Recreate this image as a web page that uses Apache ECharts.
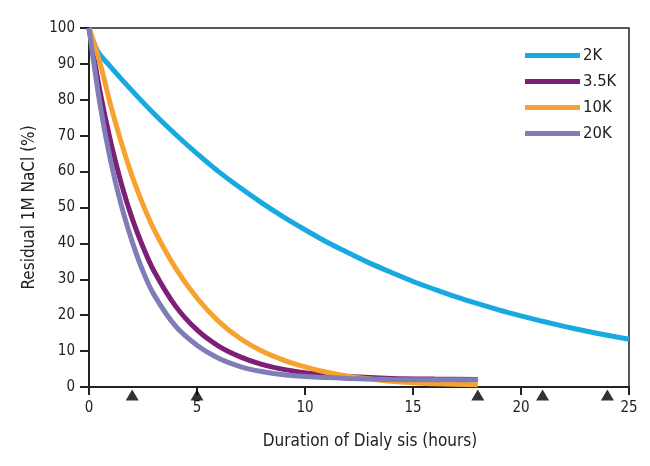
<!DOCTYPE html>
<html>
<head>
<meta charset="utf-8">
<script src="https://cdn.jsdelivr.net/npm/echarts@6/dist/echarts.min.js"></script>
<style>
  html, body { margin: 0; padding: 0; background: #fff; }
  #chart { width: 650px; height: 466px; }
</style>
</head>
<body>
<div id="chart"></div>
<script>
var FONT = '"Liberation Sans Narrow", "DejaVu Sans Condensed", "Roboto", sans-serif';

var hours2K = [0, 0.4, 1, 2, 3, 4, 5, 6, 7, 8, 9, 10, 11, 12, 13, 14, 15, 16, 17, 18, 19, 20, 21, 22, 23, 24, 25];
var values2K = [100, 93.5, 89.2, 82.5, 76.2, 70.4, 65, 60, 55.5, 51.3, 47.4, 43.8, 40.4, 37.4, 34.5, 31.9, 29.4, 27.2, 25.1, 23.2, 21.4, 19.8, 18.3, 16.9, 15.6, 14.4, 13.3];

var hours35K = [0, 0.5, 1, 1.5, 2, 2.5, 3, 4, 5, 6, 7, 8, 9, 10, 11, 12, 14, 16, 18];
var values35K = [100, 82.6, 68.4, 56.6, 46.9, 39, 32.4, 22.6, 15.9, 11.4, 8.4, 6.3, 4.9, 4.0, 3.4, 2.9, 2.4, 2.2, 2.1];

var hours10K = [0, 0.5, 1, 1.5, 2, 2.5, 3, 4, 5, 6, 7, 8, 9, 10, 11, 12, 13, 14, 15, 16, 18];
var values10K = [100, 90.5, 78.5, 68, 58.7, 50.8, 44, 33.2, 24.8, 18.3, 13.5, 10, 7.5, 5.6, 4.1, 3, 2.2, 1.6, 1.2, 0.9, 0.6];

var hours20K = [0, 0.5, 1, 1.5, 2, 2.5, 3, 4, 5, 6, 7, 8, 9, 10, 12, 14, 16, 18];
var values20K = [100, 79, 63, 50.5, 40.5, 32.2, 25.8, 17, 11.6, 8, 5.7, 4.3, 3.4, 2.9, 2.4, 2.1, 2, 2];

// buffer change times (triangles on the x axis)
var markerHours = [2, 5, 18, 21, 24];

var names = ['2K', '3.5K', '10K', '20K'];
var colors = ['#19a9e1', '#7d1f75', '#f7a12f', '#7f7db8'];

function pairs(xs, ys) {
  return xs.map(function (x, i) { return [x, ys[i]]; });
}

var chart = echarts.init(document.getElementById('chart'));

var lineData = [
  pairs(hours2K, values2K),
  pairs(hours35K, values35K),
  pairs(hours10K, values10K),
  pairs(hours20K, values20K)
];

var series = names.map(function (n, i) {
  return {
    name: n,
    type: 'line',
    data: lineData[i],
    smooth: 0.3,
    showSymbol: false,
    lineStyle: { width: 5, color: colors[i] },
    itemStyle: { color: colors[i] }
  };
});

series.push({
  name: 'markers',
  type: 'scatter',
  data: markerHours.map(function (h) { return [h, 0]; }),
  symbol: 'triangle',
  symbolSize: [13, 11],
  symbolOffset: [0, 8],
  itemStyle: { color: '#000' },
  clip: false,
  z: 10
});

var option = {
  animation: false,
  textStyle: { fontFamily: FONT },
  grid: {
    left: 89,
    right: 21,
    top: 28,
    bottom: 79,
    show: true,
    borderColor: '#222',
    borderWidth: 1.5
  },
  legend: {
    data: names,
    orient: 'vertical',
    left: 520,
    top: 42,
    itemWidth: 55,
    itemHeight: 5,
    itemGap: 9,
    icon: 'rect',
    textStyle: { fontFamily: FONT, fontSize: 16.5, color: '#222', padding: [0, 0, 0, -2] }
  },
  xAxis: {
    type: 'value',
    min: 0,
    max: 25,
    interval: 5,
    name: 'Duration of Dialy sis (hours)',
    nameLocation: 'middle',
    nameGap: 46,
    nameTextStyle: { fontFamily: FONT, fontSize: 17, color: '#222', padding: [0, 0, 0, 22] },
    axisLine: { lineStyle: { color: '#222', width: 2 } },
    axisTick: { length: 8, lineStyle: { color: '#222', width: 2 } },
    axisLabel: { fontFamily: FONT, fontSize: 15, color: '#222', margin: 14 },
    splitLine: { show: false }
  },
  yAxis: {
    type: 'value',
    min: 0,
    max: 100,
    interval: 10,
    name: 'Residual 1M NaCl (%)',
    nameLocation: 'middle',
    nameGap: 51,
    nameTextStyle: { fontFamily: FONT, fontSize: 17, color: '#222' },
    axisLine: { lineStyle: { color: '#222', width: 2 } },
    axisTick: { length: 9, lineStyle: { color: '#222', width: 2 } },
    axisLabel: { fontFamily: FONT, fontSize: 15, color: '#222', margin: 14 },
    splitLine: { show: false }
  },
  series: series
};

chart.setOption(option);
</script>
</body>
</html>
